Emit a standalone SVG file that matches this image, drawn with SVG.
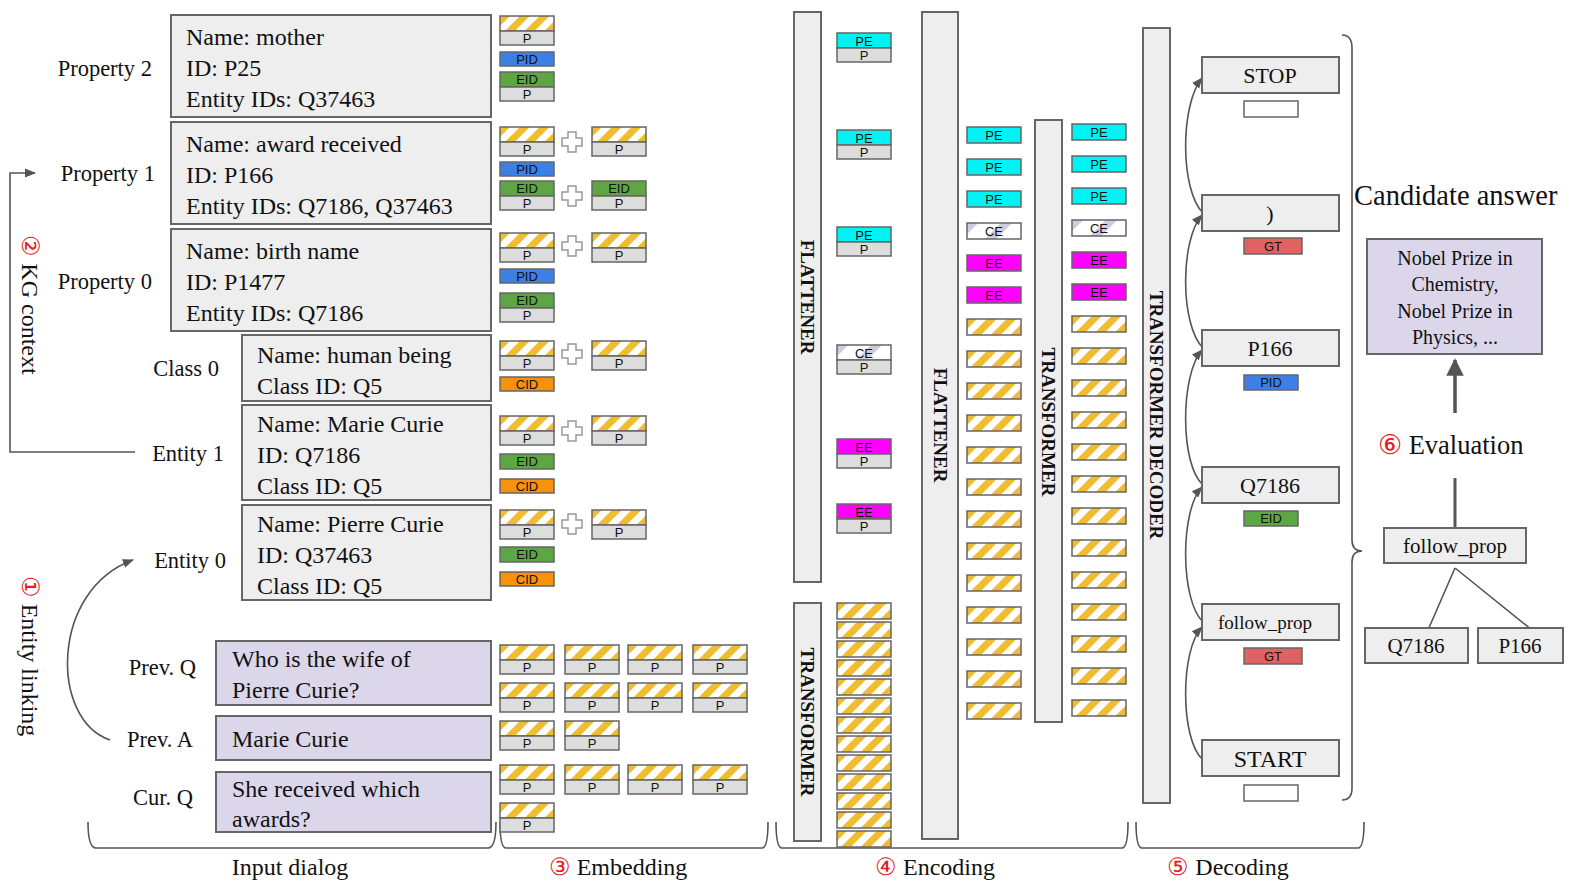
<svg xmlns="http://www.w3.org/2000/svg" xmlns:xlink="http://www.w3.org/1999/xlink" width="1581" height="895" viewBox="0 0 1581 895">
<style>
.bx{fill:#eee;stroke:#666;stroke-width:2}
.pu{fill:#dcd6ea;stroke:#666;stroke-width:2}
.tk{stroke:#666;stroke-width:1.5}
.tt{font-family:"Liberation Sans",Arial,sans-serif;font-size:13px;text-anchor:middle;fill:#111}
.t{font-family:"Liberation Serif","Times New Roman",serif;font-size:24px;fill:#111}
.lb{font-family:"Liberation Serif","Times New Roman",serif;font-size:22.5px;fill:#111;text-anchor:end}
.tc{font-family:"Liberation Serif","Times New Roman",serif;fill:#111;text-anchor:middle}
.bar{fill:#eee;stroke:#666;stroke-width:2}
.bt{font-family:"Liberation Serif","Times New Roman",serif;font-size:19px;font-weight:bold;text-anchor:middle;dominant-baseline:central;fill:#111}
.ln{fill:none;stroke:#555;stroke-width:1.6}
.red{fill:#e02020}
</style>
<defs>
<pattern id="st" width="14" height="14" patternUnits="userSpaceOnUse" patternTransform="rotate(45)"><rect width="14" height="14" fill="#fff"/><rect width="7" height="14" fill="#efbd2f"/></pattern>
<pattern id="ce" width="24" height="24" patternUnits="userSpaceOnUse" patternTransform="rotate(45)"><rect width="24" height="24" fill="#fff"/><rect width="8" height="24" fill="#cfcbe3"/></pattern>
<marker id="ah" viewBox="0 0 10 10" refX="9" refY="5" markerWidth="7" markerHeight="7" orient="auto"><path d="M0,1 L10,5 L0,9 z" fill="#555"/></marker>
<marker id="ahb" viewBox="0 0 10 10" refX="9" refY="5" markerWidth="5" markerHeight="5" orient="auto"><path d="M0,0 L10,5 L0,10 z" fill="#555"/></marker>
<g id="sp"><rect class="tk" width="54" height="15" fill="url(#st)"/><rect class="tk" y="15" width="54" height="14" fill="#ddd"/><text x="27" y="27" class="tt">P</text></g>
<g id="pid"><rect class="tk" width="54" height="14" fill="#3c80e6"/><text x="27" y="12" class="tt">PID</text></g>
<g id="cid"><rect class="tk" width="54" height="14" fill="#f7920a"/><text x="27" y="12" class="tt">CID</text></g>
<g id="eid"><rect class="tk" width="54" height="15" fill="#5ea644"/><text x="27" y="12" class="tt">EID</text></g>
<g id="eidp"><use href="#eid"/><rect class="tk" y="15" width="54" height="14" fill="#ddd"/><text x="27" y="27" class="tt">P</text></g>
<g id="pep"><rect class="tk" width="54" height="15" fill="#00f3f3"/><text x="27" y="13" class="tt">PE</text><rect class="tk" y="15" width="54" height="14" fill="#ddd"/><text x="27" y="27" class="tt">P</text></g>
<g id="cep"><rect class="tk" width="54" height="15" fill="url(#ce)"/><text x="27" y="13" class="tt">CE</text><rect class="tk" y="15" width="54" height="14" fill="#ddd"/><text x="27" y="27" class="tt">P</text></g>
<g id="eep"><rect class="tk" width="54" height="15" fill="#f0f"/><text x="27" y="13" class="tt">EE</text><rect class="tk" y="15" width="54" height="14" fill="#ddd"/><text x="27" y="27" class="tt">P</text></g>
<g id="s"><rect class="tk" width="54" height="16" fill="url(#st)"/></g>
<g id="pe"><rect class="tk" width="54" height="16" fill="#00f3f3"/><text x="27" y="13" class="tt">PE</text></g>
<g id="ce1"><rect class="tk" width="54" height="16" fill="url(#ce)"/><text x="27" y="13" class="tt">CE</text></g>
<g id="ee"><rect class="tk" width="54" height="16" fill="#f0f"/><text x="27" y="13" class="tt">EE</text></g>
<g id="gt"><rect class="tk" width="58" height="16" fill="#e06262"/><text x="29" y="13" class="tt">GT</text></g>
<g id="pidd"><rect class="tk" width="54" height="15" fill="#3c80e6"/><text x="27" y="12" class="tt">PID</text></g>
<g id="wt"><rect class="tk" width="54" height="16" fill="#fff"/></g>
<path id="plus" d="M-4,-10 h8 v6 h6 v8 h-6 v6 h-8 v-6 h-6 v-8 h6 z" fill="#fff" stroke="#999" stroke-width="1.5"/>
</defs>
<rect width="1581" height="895" fill="#fff"/>

<g id="connectors">
<path class="ln" d="M135,452 H10 V173 H35" marker-end="url(#ah)"/>
<path class="ln" d="M110,740 C50,720 50,590 133,560" marker-end="url(#ah)"/>
<path class="ln" d="M1203,760 C1180,740 1180,650 1202,627" marker-end="url(#ah)"/>
<path class="ln" d="M1203,622 C1180,600 1180,510 1202,487" marker-end="url(#ah)"/>
<path class="ln" d="M1203,485 C1180,465 1180,375 1202,350" marker-end="url(#ah)"/>
<path class="ln" d="M1203,348 C1180,325 1180,240 1202,215" marker-end="url(#ah)"/>
<path class="ln" d="M1203,213 C1180,190 1180,105 1202,78" marker-end="url(#ah)"/>
<path class="ln" d="M1455,568 L1428,630 M1455,568 L1532,630"/>
<path d="M1455,478 V530" stroke="#555" stroke-width="3"/>
<path d="M1455,413 V360" stroke="#555" stroke-width="3.5" marker-end="url(#ahb)"/>
<path class="ln" d="M1342,35 Q1352,35 1352,48 V540 Q1352,551 1362,551 Q1352,551 1352,562 V788 Q1352,800 1342,800"/>
<path class="ln" d="M88,822 Q88,848 96,848 H488 Q496,848 496,822"/>
<path class="ln" d="M500,822 Q500,848 506,848 H762 Q768,848 768,822"/>
<path class="ln" d="M776,822 Q776,848 782,848 H1122 Q1128,848 1128,822"/>
<path class="ln" d="M1136,822 Q1136,848 1142,848 H1358 Q1364,848 1364,822"/>
</g>

<text class="t" transform="translate(22,305) rotate(90)" text-anchor="middle"><tspan class="red">②</tspan> KG context</text>
<text class="t" transform="translate(22,656) rotate(90)" text-anchor="middle"><tspan class="red">①</tspan> Entity linking</text>

<g id="property2"><text class="lb" x="152" y="76">Property 2</text><rect class="bx" x="171" y="15" width="320" height="102"/>
<text class="t" x="186" y="45">Name: mother</text><text class="t" x="186" y="76">ID: P25</text><text class="t" x="186" y="107">Entity IDs: Q37463</text></g>
<g id="property1"><text class="lb" x="155" y="181">Property 1</text><rect class="bx" x="171" y="122" width="320" height="102"/>
<text class="t" x="186" y="152">Name: award received</text><text class="t" x="186" y="183">ID: P166</text><text class="t" x="186" y="214">Entity IDs: Q7186, Q37463</text></g>
<g id="property0"><text class="lb" x="152" y="289">Property 0</text><rect class="bx" x="171" y="229" width="320" height="102"/>
<text class="t" x="186" y="259">Name: birth name</text><text class="t" x="186" y="290">ID: P1477</text><text class="t" x="186" y="321">Entity IDs: Q7186</text></g>
<g id="class0"><text class="lb" x="219" y="376">Class 0</text><rect class="bx" x="242" y="335" width="249" height="66"/>
<text class="t" x="257" y="363">Name: human being</text><text class="t" x="257" y="394">Class ID: Q5</text></g>
<g id="entity1"><text class="lb" x="224" y="461">Entity 1</text><rect class="bx" x="242" y="405" width="249" height="95"/>
<text class="t" x="257" y="432">Name: Marie Curie</text><text class="t" x="257" y="463">ID: Q7186</text><text class="t" x="257" y="494">Class ID: Q5</text></g>
<g id="entity0"><text class="lb" x="226" y="568">Entity 0</text><rect class="bx" x="242" y="505" width="249" height="95"/>
<text class="t" x="257" y="532">Name: Pierre Curie</text><text class="t" x="257" y="563">ID: Q37463</text><text class="t" x="257" y="594">Class ID: Q5</text></g>
<g id="prevq"><text class="lb" x="196" y="675">Prev. Q</text><rect class="pu" x="216" y="641" width="275" height="64"/>
<text class="t" x="232" y="667">Who is the wife of</text><text class="t" x="232" y="698">Pierre Curie?</text></g>
<g id="preva"><text class="lb" x="193" y="747">Prev. A</text><rect class="pu" x="216" y="716" width="275" height="44"/>
<text class="t" x="232" y="747">Marie Curie</text></g>
<g id="curq"><text class="lb" x="193" y="805">Cur. Q</text><rect class="pu" x="216" y="772" width="275" height="60"/>
<text class="t" x="232" y="797">She received which</text><text class="t" x="232" y="827">awards?</text></g>

<g id="embedding">
<use href="#sp" x="500" y="16"/><use href="#pid" x="500" y="52"/><use href="#eidp" x="500" y="72"/>
<use href="#sp" x="500" y="127"/><use href="#plus" x="572" y="142"/><use href="#sp" x="592" y="127"/>
<use href="#pid" x="500" y="162"/>
<use href="#eidp" x="500" y="181"/><use href="#plus" x="572" y="196"/><use href="#eidp" x="592" y="181"/>
<use href="#sp" x="500" y="233"/><use href="#plus" x="572" y="246"/><use href="#sp" x="592" y="233"/>
<use href="#pid" x="500" y="269"/><use href="#eidp" x="500" y="293"/>
<use href="#sp" x="500" y="341"/><use href="#plus" x="572" y="354"/><use href="#sp" x="592" y="341"/>
<use href="#cid" x="500" y="377"/>
<use href="#sp" x="500" y="416"/><use href="#plus" x="572" y="431"/><use href="#sp" x="592" y="416"/>
<use href="#eid" x="500" y="454"/><use href="#cid" x="500" y="479"/>
<use href="#sp" x="500" y="510"/><use href="#plus" x="572" y="524"/><use href="#sp" x="592" y="510"/>
<use href="#eid" x="500" y="547"/><use href="#cid" x="500" y="572"/>
<use href="#sp" x="500" y="645"/><use href="#sp" x="565" y="645"/><use href="#sp" x="628" y="645"/><use href="#sp" x="693" y="645"/>
<use href="#sp" x="500" y="683"/><use href="#sp" x="565" y="683"/><use href="#sp" x="628" y="683"/><use href="#sp" x="693" y="683"/>
<use href="#sp" x="500" y="721"/><use href="#sp" x="565" y="721"/>
<use href="#sp" x="500" y="765"/><use href="#sp" x="565" y="765"/><use href="#sp" x="628" y="765"/><use href="#sp" x="693" y="765"/>
<use href="#sp" x="500" y="803"/>
</g>

<g id="flattener1"><rect class="bar" x="794" y="12" width="27" height="570"/><text class="bt" transform="translate(807,297) rotate(90)">FLATTENER</text></g>
<g id="transformer1"><rect class="bar" x="794" y="603" width="27" height="238"/><text class="bt" transform="translate(807,722) rotate(90)">TRANSFORMER</text></g>
<g id="enc-tokens1">
<use href="#pep" x="837" y="33"/><use href="#pep" x="837" y="130"/><use href="#pep" x="837" y="227"/>
<use href="#cep" x="837" y="345"/><use href="#eep" x="837" y="439"/><use href="#eep" x="837" y="504"/>
<use href="#s" x="837" y="603"/><use href="#s" x="837" y="622"/><use href="#s" x="837" y="641"/><use href="#s" x="837" y="660"/><use href="#s" x="837" y="679"/><use href="#s" x="837" y="698"/><use href="#s" x="837" y="717"/><use href="#s" x="837" y="736"/><use href="#s" x="837" y="755"/><use href="#s" x="837" y="774"/><use href="#s" x="837" y="793"/><use href="#s" x="837" y="812"/><use href="#s" x="837" y="831"/>
</g>
<g id="flattener2"><rect class="bar" x="922" y="12" width="36" height="827"/><text class="bt" transform="translate(940,425) rotate(90)">FLATTENER</text></g>
<g id="enc-tokens2">
<use href="#pe" x="967" y="127"/><use href="#pe" x="967" y="159"/><use href="#pe" x="967" y="191"/><use href="#ce1" x="967" y="223"/><use href="#ee" x="967" y="255"/><use href="#ee" x="967" y="287"/>
<use href="#s" x="967" y="319"/><use href="#s" x="967" y="351"/><use href="#s" x="967" y="383"/><use href="#s" x="967" y="415"/><use href="#s" x="967" y="447"/><use href="#s" x="967" y="479"/><use href="#s" x="967" y="511"/><use href="#s" x="967" y="543"/><use href="#s" x="967" y="575"/><use href="#s" x="967" y="607"/><use href="#s" x="967" y="639"/><use href="#s" x="967" y="671"/><use href="#s" x="967" y="703"/>
</g>
<g id="transformer2"><rect class="bar" x="1035" y="120" width="27" height="602"/><text class="bt" transform="translate(1048,422) rotate(90)">TRANSFORMER</text></g>
<g id="enc-tokens3">
<use href="#pe" x="1072" y="124"/><use href="#pe" x="1072" y="156"/><use href="#pe" x="1072" y="188"/><use href="#ce1" x="1072" y="220"/><use href="#ee" x="1072" y="252"/><use href="#ee" x="1072" y="284"/>
<use href="#s" x="1072" y="316"/><use href="#s" x="1072" y="348"/><use href="#s" x="1072" y="380"/><use href="#s" x="1072" y="412"/><use href="#s" x="1072" y="444"/><use href="#s" x="1072" y="476"/><use href="#s" x="1072" y="508"/><use href="#s" x="1072" y="540"/><use href="#s" x="1072" y="572"/><use href="#s" x="1072" y="604"/><use href="#s" x="1072" y="636"/><use href="#s" x="1072" y="668"/><use href="#s" x="1072" y="700"/>
</g>
<g id="decoder"><rect class="bar" x="1143" y="28" width="27" height="775"/><text class="bt" transform="translate(1156,415) rotate(90)">TRANSFORMER DECODER</text></g>

<g id="stop"><rect class="bx" x="1202" y="57" width="137" height="36"/><text class="tc" x="1270" y="83" font-size="22">STOP</text><use href="#wt" x="1244" y="101"/></g>
<g id="paren"><rect class="bx" x="1202" y="195" width="137" height="36"/><text class="tc" x="1270" y="221" font-size="22">)</text><use href="#gt" x="1244" y="238"/></g>
<g id="p166"><rect class="bx" x="1202" y="330" width="137" height="36"/><text class="tc" x="1270" y="356" font-size="22">P166</text><use href="#pidd" x="1244" y="375"/></g>
<g id="q7186"><rect class="bx" x="1202" y="467" width="137" height="36"/><text class="tc" x="1270" y="493" font-size="22">Q7186</text><use href="#eid" x="1244" y="511"/></g>
<g id="followprop"><rect class="bx" x="1202" y="604" width="137" height="36"/><text class="tc" x="1265" y="629" font-size="19">follow_prop</text><use href="#gt" x="1244" y="648"/></g>
<g id="start"><rect class="bx" x="1202" y="740" width="137" height="36"/><text class="tc" x="1270" y="767" font-size="24">START</text><use href="#wt" x="1244" y="785"/></g>

<text class="t" x="1354" y="205" style="font-size:28.5px">Candidate answer</text>
<g id="answer"><rect class="pu" x="1367" y="239" width="175" height="115"/>
<text class="tc" x="1455" y="265" font-size="20">Nobel Prize in</text><text class="tc" x="1455" y="291" font-size="20">Chemistry,</text><text class="tc" x="1455" y="318" font-size="20">Nobel Prize in</text><text class="tc" x="1455" y="344" font-size="20">Physics, ...</text></g>
<text class="t" x="1378" y="454" style="font-size:26.5px"><tspan class="red">⑥</tspan> Evaluation</text>
<g id="tree-root"><rect class="bx" x="1384" y="528" width="142" height="35"/><text class="tc" x="1455" y="553" font-size="21">follow_prop</text></g>
<g id="tree-q"><rect class="bx" x="1365" y="628" width="103" height="35"/><text class="tc" x="1416" y="653" font-size="21">Q7186</text></g>
<g id="tree-p"><rect class="bx" x="1478" y="628" width="85" height="35"/><text class="tc" x="1520" y="653" font-size="21">P166</text></g>

<text class="tc" x="290" y="875" font-size="24">Input dialog</text>
<text class="tc" x="618" y="875" font-size="24"><tspan class="red">③</tspan> Embedding</text>
<text class="tc" x="935" y="875" font-size="24"><tspan class="red">④</tspan> Encoding</text>
<text class="tc" x="1228" y="875" font-size="24"><tspan class="red">⑤</tspan> Decoding</text>
</svg>
